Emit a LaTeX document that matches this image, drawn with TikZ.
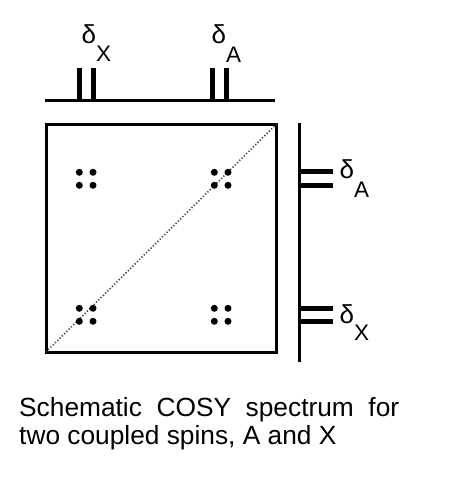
\documentclass[tikz,border=0pt]{standalone}
\usepackage{fontspec}
\setmainfont{Liberation Sans}
\newcommand{\dl}[2]{{\fontsize{26}{26}\selectfont δ}\raisebox{#2}{\fontsize{22.5}{22.5}\selectfont #1}}
\begin{document}
\begin{tikzpicture}[x=1pt,y=-1pt,
  axis/.style={line width=3pt},
  stick/.style={line width=5pt},
  peak/.style={fill=black,circle,inner sep=0pt,minimum size=7pt},
  lbl/.style={anchor=base west,inner sep=0pt},
  captext/.style={anchor=base west,inner sep=0pt,font=\fontsize{26.3}{28}\selectfont}]
\useasboundingbox (0,0) rectangle (474,483);
% top 1D spectrum
\coordinate (tl) at (45,100.5);
\coordinate (tr) at (275,100.5);
\draw[axis] (tl) -- (tr);
\foreach \x [count=\i] in {79.3,93.3,212.7,226.5}{
  \coordinate (tb\i) at (\x,100.5);
  \coordinate (tt\i) at (\x,68);
  \draw[stick] (tb\i) -- (tt\i);
}
\node[lbl] (lx) at (81.5,43) {\dl{X}{-18pt}};
\node[lbl] (la) at (211.5,43) {\dl{A}{-19pt}};
% box
\coordinate (bl) at (46,352);
\coordinate (tr2) at (276.5,124);
\draw[line width=3pt] (bl) rectangle (tr2);
\draw[gray!50!black,line width=1.6pt,dash pattern=on 1.2pt off 2pt] (bl) -- (tr2);
% peaks
\foreach \cx/\cy [count=\k] in {79.3/172.3, 214.3/172.3, 79.3/308.3, 214.3/308.3}{
  \foreach \dx in {0,13.7}{
    \foreach \dy in {0,13}{
      \node[peak] at (\cx+\dx,\cy+\dy) {};
    }
  }
}
% right 1D spectrum
\coordinate (rt) at (299.3,123);
\coordinate (rb) at (299.3,362);
\draw[axis] (rt) -- (rb);
\foreach \y [count=\i] in {171.8,185,308.2,321.5}{
  \coordinate (rs\i) at (299.3,\y);
  \coordinate (re\i) at (333,\y);
  \draw[stick] (rs\i) -- (re\i);
}
\node[lbl] (ra) at (339.5,178) {\dl{A}{-19pt}};
\node[lbl] (rx) at (339.5,323) {\dl{X}{-17pt}};
% caption
\node[captext] (c1) at (19,416.7) {Schematic\ \ COSY\ \ spectrum\ \ for};
\node[captext] (c2) at (19,444.5) {two coupled spins, A and X};
\end{tikzpicture}
\end{document}
